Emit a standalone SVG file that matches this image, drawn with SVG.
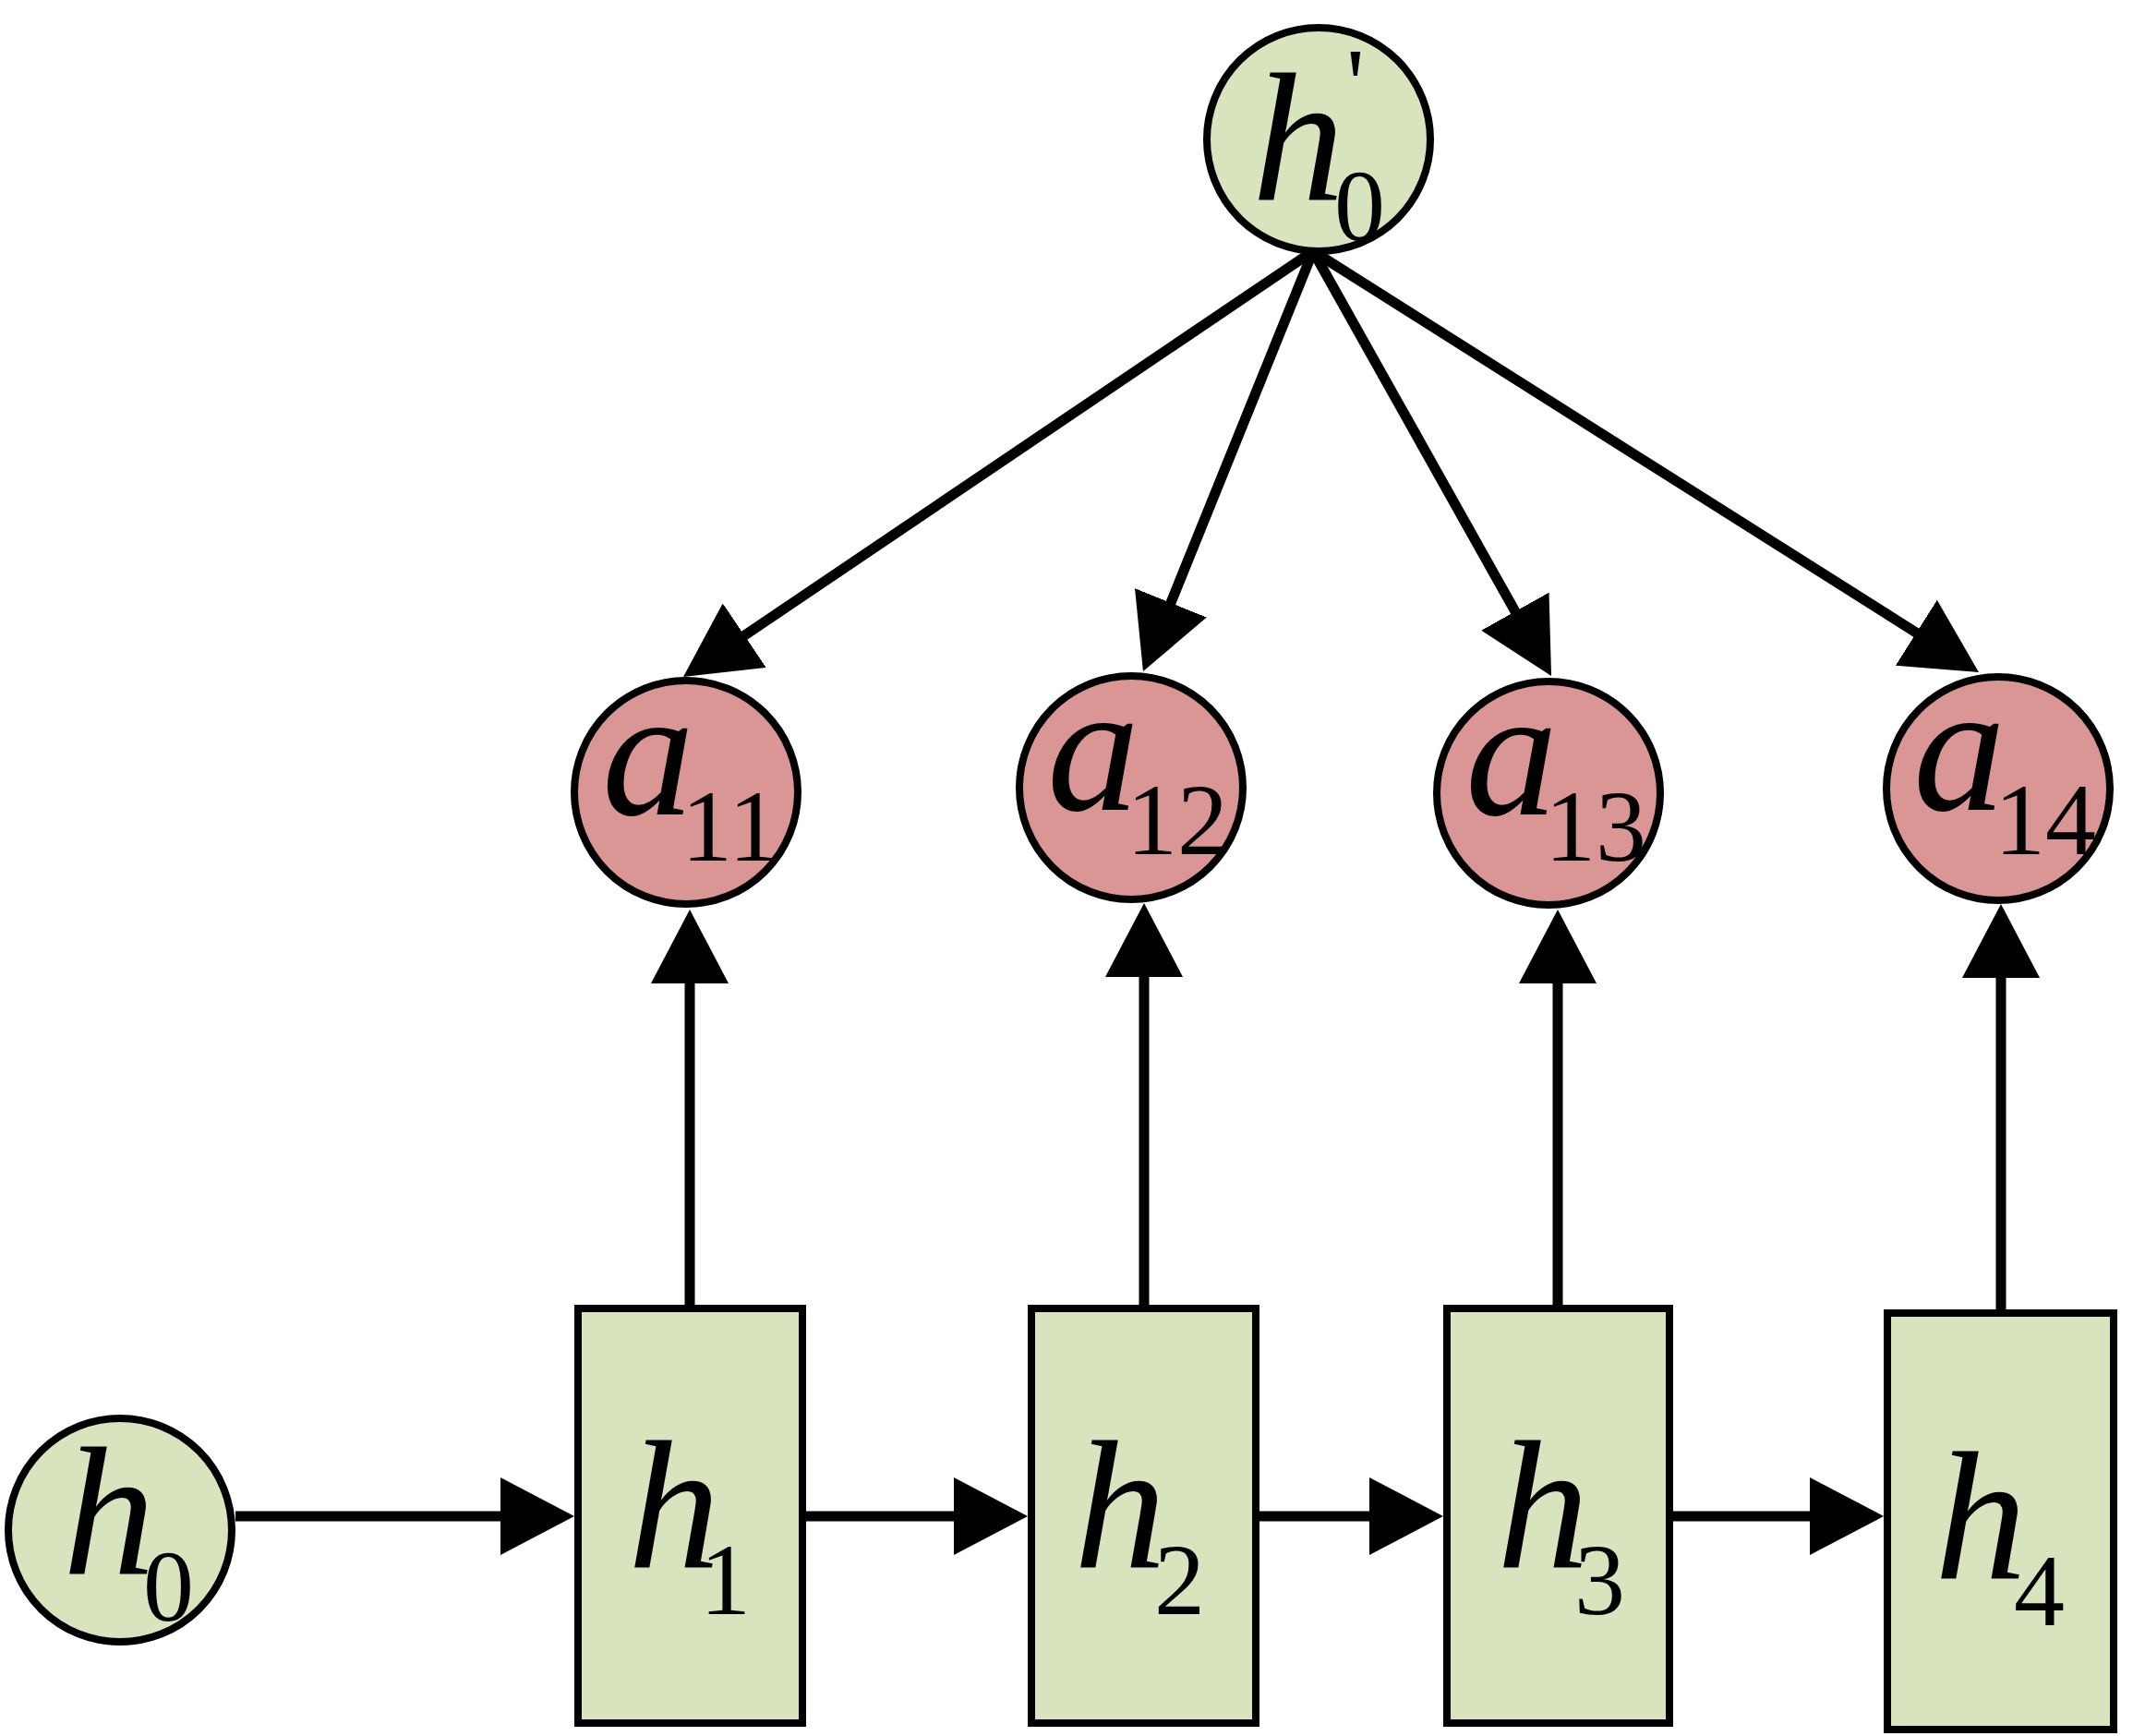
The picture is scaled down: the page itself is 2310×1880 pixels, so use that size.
<svg xmlns="http://www.w3.org/2000/svg" width="2310" height="1880" viewBox="0 0 2310 1880">
<style>
.g{fill:#D7E4BD;stroke:#000;stroke-width:8}
.r{fill:#D99694;stroke:#000;stroke-width:8}
.c{fill:none;stroke:#000;stroke-width:11;marker-end:url(#ah)}
text{fill:#000}
.t{font-style:italic;font-size:200px}
.s{font-style:normal;font-size:110px}
</style>
<defs>
<marker id="ah" markerUnits="userSpaceOnUse" markerWidth="80" markerHeight="84" refX="10" refY="42" orient="auto" viewBox="0 0 80 84">
<path d="M0,0 L80,42 L0,84 Z" fill="#000"/>
</marker>
</defs>
<rect width="2310" height="1880" fill="#fff"/>
<g id="connectors">
<line class="c" x1="1422" y1="272" x2="798" y2="693.8"/>
<line class="c" x1="1422" y1="272" x2="1264.2" y2="662.1"/>
<line class="c" x1="1422" y1="272" x2="1645.8" y2="670.9"/>
<line class="c" x1="1422" y1="272" x2="2083.8" y2="690.6"/>
<line class="c" x1="747" y1="1417" x2="747" y2="1055"/>
<line class="c" x1="1239" y1="1417" x2="1239" y2="1048"/>
<line class="c" x1="1687" y1="1417" x2="1687" y2="1055"/>
<line class="c" x1="2167" y1="1422" x2="2167" y2="1049"/>
<line class="c" x1="255" y1="1642" x2="552" y2="1642"/>
<line class="c" x1="873" y1="1642" x2="1043" y2="1642"/>
<line class="c" x1="1364" y1="1642" x2="1493" y2="1642"/>
<line class="c" x1="1812" y1="1642" x2="1970" y2="1642"/>
</g>
<g font-family="Liberation Serif, Times New Roman, serif">
<g id="h0p">
<circle class="g" cx="1428" cy="151" r="121"/>
<text class="t" x="1356" y="217">h</text>
<text class="s" x="1445" y="260">0</text>
<text class="s" x="1458" y="128">'</text>
</g>
<g id="a11">
<circle class="r" cx="743" cy="858" r="121"/>
<text class="t" x="652" y="882">a</text>
<text class="s" x="738" y="932">11</text>
</g>
<g id="a12">
<circle class="r" cx="1225" cy="853" r="121"/>
<text class="t" x="1134" y="877">a</text>
<text class="s" x="1220" y="925">12</text>
</g>
<g id="a13">
<circle class="r" cx="1677" cy="859" r="121"/>
<text class="t" x="1587" y="882">a</text>
<text class="s" x="1673" y="932">13</text>
</g>
<g id="a14">
<circle class="r" cx="2164" cy="854" r="121"/>
<text class="t" x="2072" y="877">a</text>
<text class="s" x="2160" y="925">14</text>
</g>
<g id="h0">
<circle class="g" cx="130" cy="1657" r="121"/>
<text class="t" x="68" y="1705">h</text>
<text class="s" x="155" y="1755">0</text>
</g>
<g id="h1">
<rect class="g" x="626" y="1417" width="243" height="449"/>
<text class="t" x="680" y="1698">h</text>
<text class="s" x="758" y="1748">1</text>
</g>
<g id="h2">
<rect class="g" x="1117" y="1417" width="243" height="449"/>
<text class="t" x="1163" y="1698">h</text>
<text class="s" x="1250" y="1748">2</text>
</g>
<g id="h3">
<rect class="g" x="1567" y="1417" width="241" height="449"/>
<text class="t" x="1621" y="1698">h</text>
<text class="s" x="1705" y="1748">3</text>
</g>
<g id="h4">
<rect class="g" x="2044" y="1422" width="245" height="451"/>
<text class="t" x="2095" y="1710">h</text>
<text class="s" x="2181" y="1760">4</text>
</g>
</g>
</svg>
